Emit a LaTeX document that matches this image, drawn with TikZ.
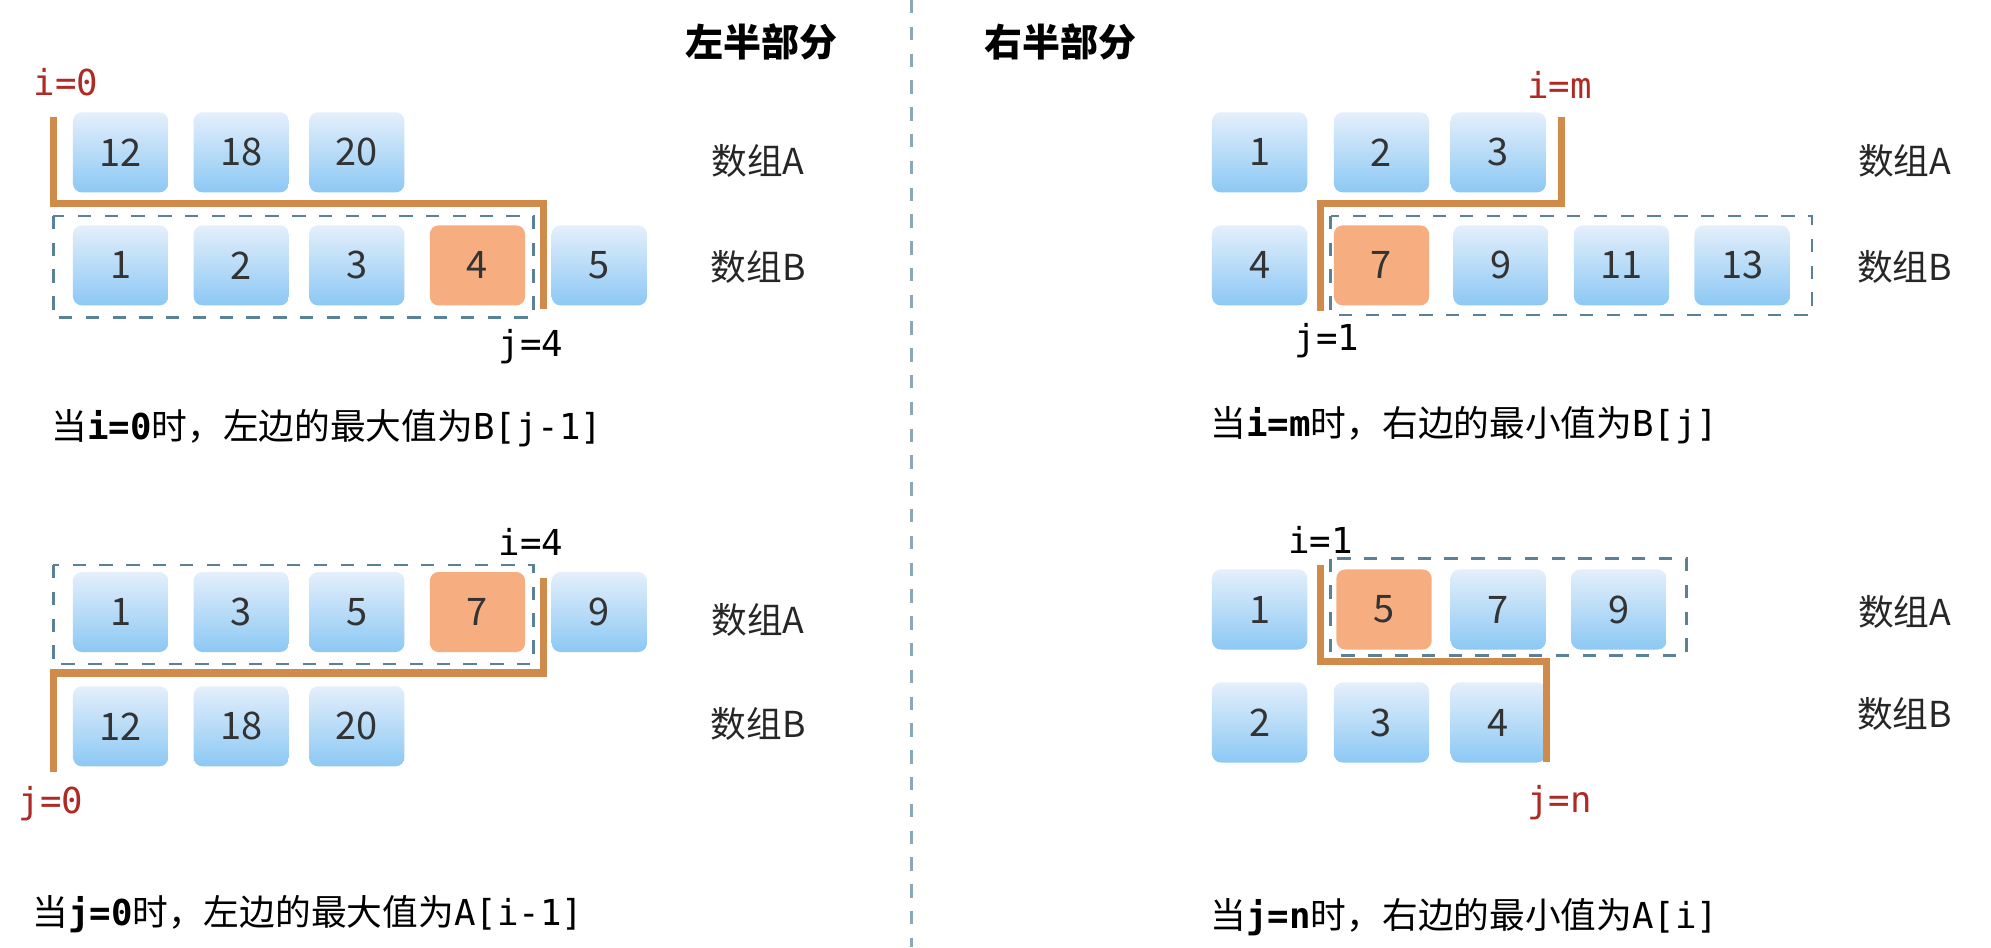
\documentclass[tikz,border=0pt]{standalone}
\usepackage{fontspec}
\setmainfont{Noto Sans CJK SC}
\newfontfamily\cjk{Noto Sans CJK SC}
\newfontfamily\mono{DejaVu Sans Mono}
\definecolor{btop}{HTML}{E4EFFB}
\definecolor{bbot}{HTML}{8CC8F4}
\definecolor{org}{HTML}{F6AE80}
\definecolor{lineorg}{HTML}{D08A4A}
\definecolor{dash}{HTML}{5A8296}
\definecolor{ired}{HTML}{B02A25}
\tikzset{
 cell/.style={rounded corners=0.07cm,minimum width=0.75cm,minimum height=0.63cm,top color=btop,bottom color=bbot,draw=none,font=\fontsize{8.5}{9}\selectfont,text=black!80},
 hot/.style={rounded corners=0.07cm,minimum width=0.75cm,minimum height=0.63cm,fill=org,draw=none,font=\fontsize{8.5}{9}\selectfont,text=black!80},
 bar/.style={draw=lineorg,line width=1.6pt},
 win/.style={draw=dash,dashed,line width=0.6pt},
 lab/.style={font=\fontsize{8}{9}\selectfont\cjk,text=black!85},
 idx/.style={font=\fontsize{8}{9}\selectfont\mono,text=black},
 ridx/.style={font=\fontsize{8}{9}\selectfont\mono,text=ired},
 note/.style={font=\fontsize{8}{9}\selectfont\cjk,anchor=west,text=black},
 head/.style={font=\fontsize{8.5}{9}\selectfont\cjk\bfseries,text=black}
}
\begin{document}
\begin{tikzpicture}[x=0.01cm,y=-0.01cm]
\useasboundingbox[fill=white] (0,0) rectangle (1568,746);
\draw[dash!70,dashed,line width=0.6pt] (718,0) -- (718,746);
% ---------- top-left
\node[head] (h1) at (600,33) {左半部分};
\node[head] (h2) at (835,33) {右半部分};
\node[ridx] (i0) at (52,65) {i=0};
\foreach \n/\x [count=\k] in {12/95,18/190,20/281} \node[cell] (ta\k) at (\x,120) {\n};
\foreach \n/\x [count=\k] in {1/95,2/190,3/281} \node[cell] (tb\k) at (\x,209) {\n};
\node[hot] (tb4) at (376,209) {4};
\node[cell] (tb5) at (472,209) {5};
\draw[win] (42,170) rectangle (420,250);
\coordinate (p1) at (42,92); \coordinate (p2) at (42,160); \coordinate (p3) at (428,160); \coordinate (p4) at (428,243);
\draw[bar] (p1) -- (p2) -- (p3) -- (p4);
\node[idx] (j4) at (418,273) {j=4};
\node[lab] (l1) at (597,127) {数组A};
\node[lab] (l2) at (597,210) {数组B};
\node[note] (n1) at (28,337) {当{\mono\bfseries i=0}时，左边的最大值为{\mono B[j-1]}};
% ---------- top-right
\node[ridx] (im) at (1228,67) {i=m};
\foreach \n/\x [count=\k] in {1/992,2/1088,3/1180} \node[cell] (ra\k) at (\x,120) {\n};
\node[cell] (rb1) at (992,209) {4};
\node[hot] (rb2) at (1088,209) {7};
\foreach \n/\x [count=\k from 3] in {9/1182,11/1277,13/1372} \node[cell] (rb\k) at (\x,209) {\n};
\draw[win] (1048,170) rectangle (1427,248);
\coordinate (q1) at (1230,92); \coordinate (q2) at (1230,160); \coordinate (q3) at (1040,160); \coordinate (q4) at (1040,245);
\draw[bar] (q1) -- (q2) -- (q3) -- (q4);
\node[idx] (j1) at (1045,268) {j=1};
\node[lab] (l3) at (1500,127) {数组A};
\node[lab] (l4) at (1500,210) {数组B};
\node[note] (n2) at (941,335) {当{\mono\bfseries i=m}时，右边的最小值为{\mono B[j]}};
% ---------- bottom-left
\node[idx] (i4) at (418,427) {i=4};
\foreach \n/\x [count=\k] in {1/95,3/190,5/281} \node[cell] (ba\k) at (\x,482) {\n};
\node[hot] (ba4) at (376,482) {7};
\node[cell] (ba5) at (472,482) {9};
\foreach \n/\x [count=\k] in {12/95,18/190,20/281} \node[cell] (bb\k) at (\x,572) {\n};
\draw[win] (42,445) rectangle (420,523);
\coordinate (s1) at (428,455); \coordinate (s2) at (428,530); \coordinate (s3) at (42,530); \coordinate (s4) at (42,608);
\draw[bar] (s1) -- (s2) -- (s3) -- (s4);
\node[ridx] (j0) at (40,633) {j=0};
\node[lab] (l5) at (597,488) {数组A};
\node[lab] (l6) at (597,570) {数组B};
\node[note] (n3) at (13,720) {当{\mono\bfseries j=0}时，左边的最大值为{\mono A[i-1]}};
% ---------- bottom-right
\node[idx] (i1) at (1040,425) {i=1};
\node[cell] (ca1) at (992,480) {1};
\node[hot] (ca2) at (1090,480) {5};
\node[cell] (ca3) at (1180,480) {7};
\node[cell] (ca4) at (1275,480) {9};
\foreach \n/\x [count=\k] in {2/992,3/1088,4/1180} \node[cell] (cb\k) at (\x,569) {\n};
\draw[win] (1048,440) rectangle (1328,516);
\coordinate (t1) at (1040,445); \coordinate (t2) at (1040,521); \coordinate (t3) at (1218,521); \coordinate (t4) at (1218,600);
\draw[bar] (t1) -- (t2) -- (t3) -- (t4);
\node[ridx] (jn) at (1228,632) {j=n};
\node[lab] (l7) at (1500,482) {数组A};
\node[lab] (l8) at (1500,562) {数组B};
\node[note] (n4) at (941,722) {当{\mono\bfseries j=n}时，右边的最小值为{\mono A[i]}};
\end{tikzpicture}
\end{document}
